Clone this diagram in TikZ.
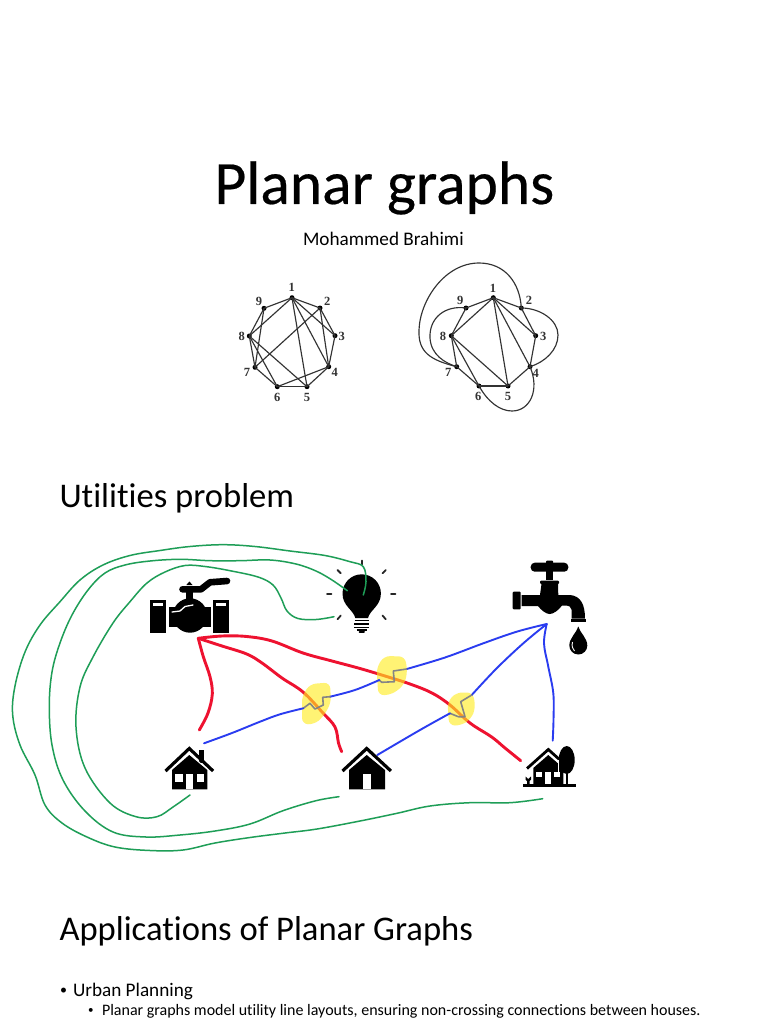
\documentclass[tikz,border=0pt]{standalone}
\usepackage{fontspec}
\setmainfont[Ligatures=NoCommon]{Carlito}
\newfontfamily\titlefont[Ligatures=NoCommon,FakeBold=0.35]{Carlito}
\newfontfamily\labelfont{Liberation Serif}
\tikzset{
  txt/.style={anchor=base west,inner sep=0pt,outer sep=0pt,text=black},
  vert/.style={circle,fill=black,inner sep=0pt,minimum size=5pt},
  vlab/.style={inner sep=0pt,font=\labelfont\bfseries\fontsize{12.5}{14}\selectfont,text=black!80},
  gedge/.style={draw=black!80,line width=1.15pt},
  ray/.style={line width=1.8pt,draw=black!85,line cap=round},
  grn/.style={draw=grncol,line width=1.5pt,line cap=round,line join=round},
  redl/.style={draw=redcol,line width=2.9pt,line cap=round,line join=round},
  blu/.style={draw=blucol,line width=1.9pt,line cap=round,line join=round},
  gry/.style={draw=grycol,line width=1.6pt,line cap=round,line join=round},
  yel/.style={fill=yelcol,opacity=0.62,draw=none,rounded corners=6pt},
  ico/.style={fill=black,draw=none},
  gap/.style={fill=white,draw=none}
}
\definecolor{grncol}{HTML}{1E9E57}
\definecolor{redcol}{HTML}{EE1230}
\definecolor{blucol}{HTML}{2A3CF0}
\definecolor{grycol}{HTML}{858585}
\definecolor{yelcol}{HTML}{FFEC20}
\begin{document}
\begin{tikzpicture}[x=1pt,y=-1pt]
\useasboundingbox[fill=white] (0,0) rectangle (768,1024);

% Text
\node[txt,font=\titlefont\fontsize{61.5}{64}\selectfont] (title) at (214.5,204) {Planar graphs};
\node[txt,font=\fontsize{19.2}{21}\selectfont] (author) at (303,245) {Mohammed Brahimi};
\node[txt,font=\fontsize{34.6}{36}\selectfont] (util) at (59.5,507) {Utilities problem};
\node[txt,font=\fontsize{34.6}{36}\selectfont] (appl) at (59.5,940) {Applications of Planar Graphs};
\node[txt,font=\fontsize{14}{16}\selectfont] (b1) at (60,994.5) {•};
\node[txt,font=\fontsize{19.2}{21}\selectfont] (urban) at (73,996) {Urban Planning};
\node[txt,font=\fontsize{11}{13}\selectfont] (b2) at (88,1013) {•};
\node[txt,font=\fontsize{16}{18}\selectfont] (sub) at (102,1015) {Planar graphs model utility line layouts, ensuring non-crossing connections between houses.};

% Graph one
\node[vert] (a1) at (292,297.7) {};
\node[vert] (a2) at (320,308) {};
\node[vert] (a3) at (335,335.7) {};
\node[vert] (a4) at (328.7,366.7) {};
\node[vert] (a5) at (307,386.7) {};
\node[vert] (a6) at (277.3,386.7) {};
\node[vert] (a7) at (255,367.3) {};
\node[vert] (a8) at (249.3,336) {};
\node[vert] (a9) at (264,308.3) {};
\foreach \p/\q in {1/2,2/3,3/4,4/5,5/6,6/7,7/8,8/9,9/1,1/3,1/4,1/5,1/8,2/4,2/7,9/7,8/6,8/5,6/4}
  \draw[gedge] (a\p.center) -- (a\q.center);
\node[vlab] (la1) at (291.7,287.3) {1};
\node[vlab] (la2) at (327.3,301) {2};
\node[vlab] (la3) at (341.7,336) {3};
\node[vlab] (la4) at (334.7,372.7) {4};
\node[vlab] (la5) at (307,397.3) {5};
\node[vlab] (la6) at (277.3,397.3) {6};
\node[vlab] (la7) at (247,372.7) {7};
\node[vlab] (la8) at (241.7,336) {8};
\node[vlab] (la9) at (259,301) {9};

% Graph two
\node[vert] (c1) at (493.3,297.7) {};
\node[vert] (c2) at (521.3,308) {};
\node[vert] (c3) at (535.7,335.7) {};
\node[vert] (c4) at (530,366.7) {};
\node[vert] (c5) at (508,386) {};
\node[vert] (c6) at (479,386) {};
\node[vert] (c7) at (456.7,366.7) {};
\node[vert] (c8) at (451.3,335.7) {};
\node[vert] (c9) at (466,308) {};
\foreach \p/\q in {1/2,2/3,3/4,4/5,5/6,6/7,7/8,8/9,9/1,1/3,1/4,1/5,1/8,8/6,8/5}
  \draw[gedge] (c\p.center) -- (c\q.center);
\draw[gedge] (c2.center) .. controls (520,283) and (505,263) .. (479,263)
   .. controls (445,263) and (420,300) .. (419,330)
   .. controls (418,352) and (430,360) .. (c7.center);
\draw[gedge] (c9.center) .. controls (445,305) and (429,318) .. (430,338)
   .. controls (431,355) and (445,363) .. (c7.center);
\draw[gedge] (c2.center) .. controls (540,308) and (558,320) .. (558,335)
   .. controls (558,350) and (545,362) .. (c4.center);
\draw[gedge] (c6.center) .. controls (488,402) and (500,411) .. (512,411)
   .. controls (530,411) and (540,390) .. (c4.center);
\node[vlab] (lc1) at (493,288.3) {1};
\node[vlab] (lc2) at (529,300.7) {2};
\node[vlab] (lc3) at (543.3,336.7) {3};
\node[vlab] (lc4) at (535.7,373) {4};
\node[vlab] (lc5) at (508,396.7) {5};
\node[vlab] (lc6) at (478.3,396.7) {6};
\node[vlab] (lc7) at (448.3,372.3) {7};
\node[vlab] (lc8) at (443,336) {8};
\node[vlab] (lc9) at (460.3,300) {9};

% Valve
\fill[ico] (150,600) rectangle (166,632.7);
\fill[ico] (213,600) rectangle (229.3,632.7);
\fill[gap] (152.7,603) rectangle (163.3,606);
\fill[gap] (215.7,603) rectangle (226.3,606);
\fill[ico] (168.7,606.5) rectangle (210.7,627);
\fill[ico] (190,615.5) circle (17.2);
\fill[ico] (186,588) rectangle (193,604);
\fill[ico] (189.4,581.5) -- (192.5,585) -- (186.3,585) -- cycle;
\draw[black,line width=6.6pt,line cap=round,line join=round] (182.5,589.3) -- (201,589.3) -- (210,582.3) -- (227,581);
\draw[white,line width=1.3pt,line cap=round] (172,612) -- (180,611) -- (185,606.5) -- (193,605);

% Bulb
\fill[ico] (355.3,618) .. controls (353.5,610) and (342.5,606) .. (342.5,593.5)
   arc[start angle=180,end angle=360,radius=19.2]
   .. controls (380.9,606) and (369.8,610) .. (368,618) -- cycle;
\foreach \yy/\ww in {620.5/7.2,624/7.6,627.3/7.6,630/5}
  \draw[black,line width=1.5pt] (361.7-\ww,\yy) -- (361.7+\ww,\yy);
\draw[black,line width=2pt,line cap=round] (359.5,632) -- (364,632);
\draw[ray] (361.7,560.5) -- (361.7,564.5);
\draw[ray] (391,594.3) -- (395.5,594.3);
\draw[ray] (327,594.3) -- (331.5,594.3);
\draw[ray] (382.5,573.3) -- (385.8,570);
\draw[ray] (337.5,570) -- (340.8,573.3);
\draw[ray] (337.5,619.3) -- (340.8,615.5);
\draw[ray] (382.5,615.5) -- (385.8,619.3);

% Tap
\fill[ico,rounded corners=1pt] (512.7,591.7) rectangle (520.7,609.3);
\fill[ico] (521.7,595) -- (540,595) -- (541.5,584) -- (558,584) -- (558.3,595) -- (570,595)
   .. controls (581,596) and (585,605) .. (585,618.5) -- (571.7,618.5) -- (571.7,610)
   .. controls (571.7,607) and (569,605.5) .. (565,605.5) -- (562,605.5)
   .. controls (558,611) and (553,614) .. (549.5,614) .. controls (546,614) and (541,610) .. (538,606)
   -- (521.7,606) -- cycle;
\fill[ico,rounded corners=1pt] (540,580.7) rectangle (559,584);
\fill[ico] (546,568) rectangle (553.3,579.5);
\fill[ico,rounded corners=4pt] (530.7,562.7) rectangle (568.3,571.7);
\fill[ico,rounded corners=1pt] (546,560.5) rectangle (553,564);
\fill[ico] (571,618.5) rectangle (586,622.2);
\fill[ico] (578.3,626.5) .. controls (579.5,632) and (587.3,638) .. (587.3,645.5)
   arc[start angle=0,end angle=180,radius=9]
   .. controls (569.3,638) and (577,632) .. (578.3,626.5) -- cycle;
\draw[white,line width=0.9pt] (572.5,642) .. controls (571.5,646) and (572.5,649) .. (574.5,651);

% Houses
\newcommand{\houseroof}[3]{%
  \draw[black,line width=3.2pt,line join=miter,line cap=butt] (#1,#2) -- (#3,748.5) -- ({2*#3-#1},#2);}
% House one
\fill[ico] (199,750) rectangle (204,763);
\fill[gap] (168,773) -- (189.3,751.5) -- (210.5,773) -- (207.3,773) -- (189.3,755) -- (172,773) -- cycle;
\fill[ico] (172,770) -- (189.3,755) -- (207.3,770) -- (207.3,789.3) -- (172,789.3) -- cycle;
\houseroof{165.5}{771}{189.3}
\fill[gap] (175.3,774.3) rectangle (182.7,781.7);
\fill[gap] (196.7,774.3) rectangle (204,781.7);
\fill[gap] (186,774.3) rectangle (192.7,789.3);
% House two
\fill[ico] (349,770) -- (366.7,755) -- (385,770) -- (385,789.3) -- (349,789.3) -- cycle;
\houseroof{342.5}{771}{366.7}
\fill[gap] (362.7,774.3) rectangle (370.7,789.3);
% House three
\fill[ico] (522.7,784) rectangle (576,787.3);
\fill[ico] (533.3,768) -- (548.3,755) -- (563.3,768) -- (563.3,784) -- (533.3,784) -- cycle;
\draw[black,line width=2.8pt] (527,768.5) -- (548.3,749.5) -- (560,760);
\fill[gap] (536,771.7) rectangle (541.7,777.3);
\fill[gap] (554,771.7) rectangle (560,777.3);
\fill[gap] (545,771.7) rectangle (550.7,784);
\fill[ico] (566.7,760) ellipse (8 and 14);
\draw[white,line width=0.8pt] (558.5,760) -- (558.5,772);
\fill[ico] (565.7,770) rectangle (567.9,785);
\fill[ico] (525.5,776.5) -- (528.3,779) -- (531,776.5) -- (531,779.5) -- (529.5,781) -- (529.5,784) -- (527,784) -- (527,781) -- (525.5,779.5) -- cycle;

% Green wires
\draw[grn] plot[smooth,tension=0.6] coordinates {(363.3,595) (366,581.7) (363.3,566.7) (350,561.7) (325,555.5) (290,551) (255,546.5) (223,544.7) (190,546.5) (160,550.5) (130,555.5) (103,565) (80,580) (60,601.7) (40,625) (25,652) (15,686) (12.7,715) (20,745) (35,775) (45,805) (62,823) (87,837) (115,847) (150,850.5) (183,850) (215,843) (250,837.5) (285,833) (317,829) (360,821) (397,813.3) (430,806) (470,802.7) (510,802.7) (542.7,798.7)};
\draw[grn] plot[smooth,tension=0.6] coordinates {(347.3,590.7) (332,580) (316,571) (296,564) (270,560) (240,560.7) (210,560.7) (180,559.3) (150,561) (125,565) (105,573) (88,590) (72,615) (60,643) (52,672) (49.3,706) (52,745) (63,780) (85,811) (113,832) (146,837) (180,835) (215,831) (250,824) (283,810.7) (316,800.7) (339,796.7)};
\draw[grn] plot[smooth,tension=0.6] coordinates {(334,616.7) (316,619.5) (298,618.5) (287,611) (281,598) (273,585) (258,577) (230,570.7) (205,566.5) (185,565.5) (165,572) (147,583) (130,601.7) (113,623) (93,657) (80,687) (76,727) (85,768) (110,803) (136,816.7) (157,816.7) (173,807) (190,795)};

% Red wires
\draw[redl] plot[smooth,tension=0.6] coordinates {(198.3,638.3) (203.3,656.7) (210,676.7) (212.3,694) (208,713) (199.3,730)};
\draw[redl] plot[smooth,tension=0.6] coordinates {(198.3,638.3) (222,646) (246.7,654) (262,663) (282,678) (303,692) (323,713) (335,727) (338.5,743) (341.7,751.7)};
\draw[redl] plot[smooth,tension=0.6] coordinates {(198.3,638.3) (222,636) (246.7,636.5) (272,641) (303,653) (332,661) (360,668.5) (385,676) (410,684) (432,693) (450,705) (470,723) (491.7,737) (505,748) (520.7,760.7)};

% Highlights
\fill[yel] (302,724) -- (302,696) -- (310,684) -- (330,682.5) -- (331,703) -- (323,717) -- (314,724.5) -- cycle;
\fill[yel] (378.3,695.5) -- (376.5,668) -- (384,656) -- (405,656.5) -- (407.5,672) -- (404,685) -- (392,694.5) -- cycle;
\fill[yel] (449,725.5) -- (447.5,702) -- (456,692.5) -- (473,692.5) -- (475.5,708) -- (471,719) -- (461,725.5) -- cycle;

% Blue wires
\draw[blu] plot[smooth,tension=0.6] coordinates {(546.7,624) (516.7,631.7) (483.3,643.3) (445,657.5) (406.7,669)};
\draw[gry] (406.7,669) -- (393.3,671) -- (394.3,681.7) -- (381.7,682.3) -- (379.3,680);
\draw[blu] plot[smooth,tension=0.6] coordinates {(379.3,680) (355,690) (330,696.7)};
\draw[gry] (330,696.7) -- (322.7,697.3) -- (323.3,705) -- (315,709) -- (310,703.3) -- (303.3,708.3);
\draw[blu] plot[smooth,tension=0.6] coordinates {(303.3,708.3) (280,714.3) (260,721.7) (232,733) (204,743.3)};
\draw[blu] plot[smooth,tension=0.6] coordinates {(546.7,624) (523.3,643.3) (496.7,668.3) (471.7,695)};
\draw[gry] (471.7,695) -- (460.7,701.7) -- (465,716.7) -- (458.3,716.7) -- (450,713.3);
\draw[blu] plot[smooth,tension=0.6] coordinates {(450,713.3) (420,730) (377.3,755)};
\draw[blu] plot[smooth,tension=0.6] coordinates {(546.7,624) (544,643.3) (548.3,666.7) (553.3,693.3) (553.5,720) (552.7,740.7)};
\end{tikzpicture}
\end{document}
